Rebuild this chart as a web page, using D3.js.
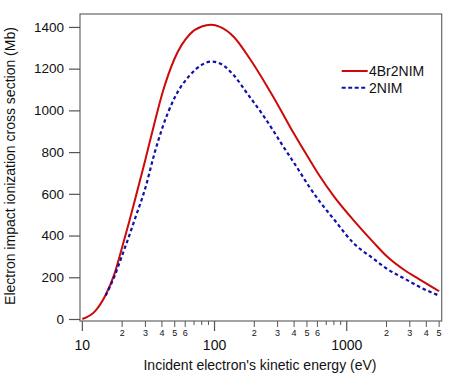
<!DOCTYPE html>
<html>
<head>
<meta charset="utf-8">
<script src="https://cdn.jsdelivr.net/npm/d3@7"></script>
<style>
  body { margin: 0; background: #fff; }
  text { font-family: "Liberation Sans", Arial, sans-serif; fill: #111; }
</style>
</head>
<body>
<div id="chart"></div>
<script>
// Daten
const energy4Br = [10, 12.5, 15, 17.5, 20, 22.5, 25, 30, 35, 40, 50, 65, 80, 94, 110, 140, 186, 250, 280, 372, 500, 630, 800, 1120, 1600, 2000, 2800, 3600, 5000];
const sigma4Br  = [0, 38, 115, 216, 344, 461, 571, 765, 935, 1075, 1250, 1365, 1402, 1410, 1400, 1352, 1245, 1115, 1062, 922, 785, 682, 588, 475, 366, 302, 230, 188, 133];

const energy2NIM = [15, 17.5, 20, 22.5, 25, 30, 35, 40, 50, 65, 80, 94, 110, 140, 175, 234, 280, 313, 420, 513, 630, 800, 1120, 1600, 2000, 2800, 3600, 5000];
const sigma2NIM  = [112, 205, 305, 395, 480, 629, 790, 910, 1062, 1168, 1218, 1234, 1225, 1168, 1085, 975, 900, 851, 727, 640, 560, 478, 365, 288, 242, 190, 152, 112];

const yTicks = [0, 200, 400, 600, 800, 1000, 1200, 1400];
const xMajor = [10, 100, 1000];
const seriesNames = ["4Br2NIM", "2NIM"];

const width = 474, height = 374;
const mLeft = 80, mRight = 441.7, mTop = 14, mBottom = 321;

const svg = d3.select("#chart").append("svg")
    .attr("width", width)
    .attr("height", height);

const x = d3.scaleLog().domain([9.6, 5230]).range([mLeft, mRight]);
const y = d3.scaleLinear().domain([-9.6, 1462]).range([mBottom, mTop]);

// Rahmen
svg.append("rect")
    .attr("x", mLeft).attr("y", mTop)
    .attr("width", mRight - mLeft).attr("height", mBottom - mTop)
    .attr("fill", "none").attr("stroke", "#666").attr("stroke-width", 1.2);

// y-Achse
const yAxis = svg.append("g")
    .attr("transform", `translate(${mLeft},0)`)
    .call(d3.axisLeft(y).tickValues(yTicks).tickSize(11).tickPadding(5).tickFormat(d3.format("d")));
yAxis.select(".domain").remove();
yAxis.selectAll("line").attr("stroke", "#555").attr("stroke-width", 1.2);
yAxis.selectAll("text").attr("font-size", 13.5).attr("fill", "#111")
    .attr("font-family", "Liberation Sans, Arial, sans-serif");

// x-Achse: kleine Ticks
const minor = [];
for (let dec = 10; dec <= 1000; dec *= 10) {
    for (let k = 2; k <= 9; k++) {
        const v = k * dec;
        if (v <= 5000) minor.push(v);
    }
}
const xg = svg.append("g").attr("transform", `translate(0,${mBottom})`);

const lead = v => Math.round(v / Math.pow(10, Math.floor(Math.log10(v) + 1e-9)));
const labelled = v => {
    const k = lead(v);
    return k >= 2 && k <= 6 && !(v >= 1000 && k === 6);
};

xg.selectAll(".minor").data(minor).join("line")
    .attr("x1", d => x(d)).attr("x2", d => x(d))
    .attr("y1", 0).attr("y2", d => labelled(d) ? 6 : 4)
    .attr("stroke", "#555").attr("stroke-width", 1);

xg.selectAll(".minorlab").data(minor.filter(labelled)).join("text")
    .attr("x", d => x(d)).attr("y", 15)
    .attr("text-anchor", "middle").attr("font-size", 9)
    .text(d => lead(d));

xg.selectAll(".major").data(xMajor).join("line")
    .attr("x1", d => x(d)).attr("x2", d => x(d))
    .attr("y1", 0).attr("y2", 10)
    .attr("stroke", "#555").attr("stroke-width", 1.2);

xg.selectAll(".majorlab").data(xMajor).join("text")
    .attr("x", d => x(d)).attr("y", 29)
    .attr("text-anchor", "middle").attr("font-size", 14)
    .text(d => d);

// Achsentitel
svg.append("text")
    .attr("x", 260).attr("y", 370)
    .attr("text-anchor", "middle").attr("font-size", 14)
    .text("Incident electron's kinetic energy (eV)");

svg.append("text")
    .attr("transform", "translate(15,166) rotate(-90)")
    .attr("text-anchor", "middle").attr("font-size", 14)
    .text("Electron impact ionization cross section (Mb)");

// Kurven
const line = d3.line()
    .x(d => x(d[0]))
    .y(d => y(d[1]))
    .curve(d3.curveMonotoneX);

svg.append("path")
    .datum(d3.zip(energy4Br, sigma4Br))
    .attr("d", line)
    .attr("fill", "none").attr("stroke", "#cc0a0a").attr("stroke-width", 2);

svg.append("path")
    .datum(d3.zip(energy2NIM, sigma2NIM))
    .attr("d", line)
    .attr("fill", "none").attr("stroke", "#1010a8").attr("stroke-width", 2.2)
    .attr("stroke-dasharray", "3.5,2.8");

// Legende
const leg = svg.append("g");
[["#cc0a0a", null, 71], ["#1010a8", "4,2.5", 87.7]].forEach((s, i) => {
    leg.append("line")
        .attr("x1", 341.7).attr("x2", 367.7).attr("y1", s[2]).attr("y2", s[2])
        .attr("stroke", s[0]).attr("stroke-width", 2)
        .attr("stroke-dasharray", s[1]);
    leg.append("text")
        .attr("x", 369).attr("y", s[2] + 5)
        .attr("font-size", 14)
        .text(seriesNames[i]);
});
</script>
</body>
</html>
